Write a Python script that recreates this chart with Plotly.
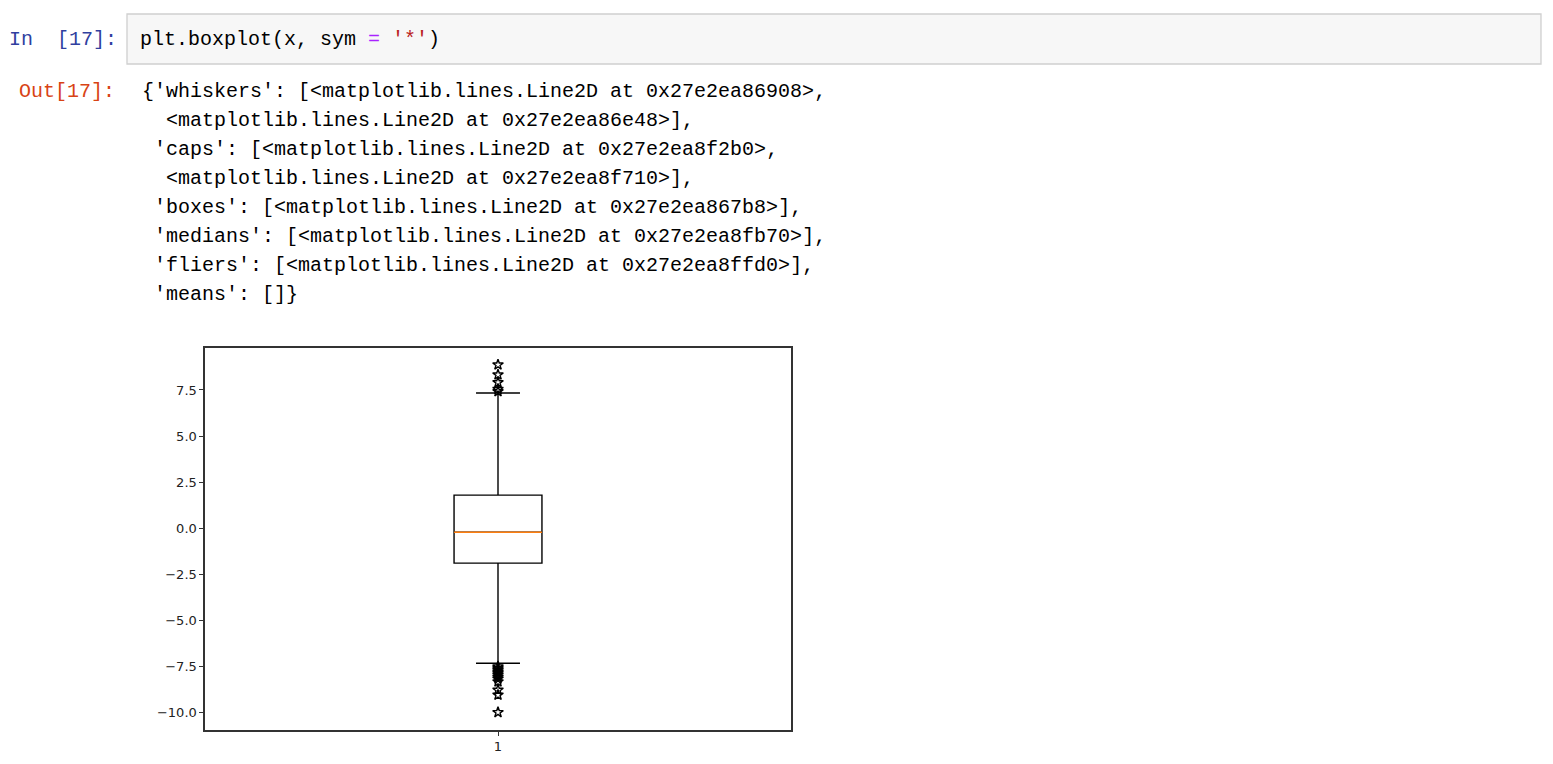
import plotly.graph_objects as go

W, H = 1553, 764

# ---- data ----
box_pos = [1]
q1 = [-1.90]
median = [-0.22]
q3 = [1.79]
lower_whisker = [-7.34]
upper_whisker = [7.34]
fliers_high = [8.87, 8.33, 7.91, 7.55, 7.42]
fliers_low = [-7.52, -7.61, -7.70, -7.79, -7.88, -7.97, -8.08, -8.18, -8.34, -8.79, -9.06, -10.0]
y_ticks = [-10.0, -7.5, -5.0, -2.5, 0.0, 2.5, 5.0, 7.5]
x_tick_labels = ["1"]

in_prompt = "In  [17]:"
out_prompt = "Out[17]:"
code_parts = [("plt.boxplot(x, sym ", "#000000"), ("=", "#AA22FF"), (" ", "#000000"),
              ("'*'", "#BA2121"), (")", "#000000")]
out_lines = [
    "{'whiskers': [<matplotlib.lines.Line2D at 0x27e2ea86908>,",
    "  <matplotlib.lines.Line2D at 0x27e2ea86e48>],",
    " 'caps': [<matplotlib.lines.Line2D at 0x27e2ea8f2b0>,",
    "  <matplotlib.lines.Line2D at 0x27e2ea8f710>],",
    " 'boxes': [<matplotlib.lines.Line2D at 0x27e2ea867b8>],",
    " 'medians': [<matplotlib.lines.Line2D at 0x27e2ea8fb70>],",
    " 'fliers': [<matplotlib.lines.Line2D at 0x27e2ea8ffd0>],",
    " 'means': []}",
]

BOX_W = 0.15
MONO = "Liberation Mono"
TICKFONT = "DejaVu Sans"


def px(x):
    return x / W


def py(y):
    return 1 - y / H


def nb(s):
    return s.replace(" ", "\u00a0")


fig = go.Figure()

fig.add_trace(go.Box(
    x=box_pos, q1=q1, median=median, q3=q3,
    lowerfence=lower_whisker, upperfence=upper_whisker,
    width=BOX_W, whiskerwidth=0.5,
    line=dict(color="black", width=1.4), fillcolor="rgba(255,255,255,0)",
    boxpoints=False, showlegend=False, hoverinfo="skip",
))

# orange median line across the box
fig.add_trace(go.Scatter(
    x=[box_pos[0] - BOX_W / 2, box_pos[0] + BOX_W / 2], y=[median[0], median[0]],
    mode="lines", line=dict(color="#ff7f0e", width=1.6), showlegend=False, hoverinfo="skip",
))

fl = fliers_high + fliers_low
fig.add_trace(go.Scatter(
    x=[box_pos[0]] * len(fl), y=fl, mode="markers",
    marker=dict(symbol="star-open", size=8, color="black", line=dict(width=1.4)),
    showlegend=False, hoverinfo="skip",
))

fig.update_xaxes(
    domain=[px(205), px(791)], range=[0.5, 1.5],
    tickvals=box_pos, ticktext=x_tick_labels,
    ticks="outside", ticklen=4, tickwidth=1, tickcolor="#333",
    showgrid=False, zeroline=False, showline=True, linecolor="#333", linewidth=1.6, mirror=True,
    tickfont=dict(family=TICKFONT, size=13, color="#222"),
)
fig.update_yaxes(
    domain=[py(730), py(348)], range=[-10.96, 9.78],
    tickvals=y_ticks, tickformat=".1f",
    ticks="outside", ticklen=4, tickwidth=1, tickcolor="#333",
    showgrid=False, zeroline=False, showline=True, linecolor="#333", linewidth=1.6, mirror=True,
    tickfont=dict(family=TICKFONT, size=13, color="#222"),
)

annotations = []
annotations.append(dict(
    x=px(7), y=py(40), xref="paper", yref="paper", xanchor="left", yanchor="middle",
    text=nb(in_prompt), showarrow=False, font=dict(family=MONO, size=20, color="#303F9F"),
))
annotations.append(dict(
    x=px(17), y=py(92), xref="paper", yref="paper", xanchor="left", yanchor="middle",
    text=nb(out_prompt), showarrow=False, font=dict(family=MONO, size=20, color="#D84315"),
))
code_html = "".join(f'<span style="color:{c}">{nb(t)}</span>' for t, c in code_parts)
annotations.append(dict(
    x=px(138), y=py(40), xref="paper", yref="paper", xanchor="left", yanchor="middle",
    text=code_html, showarrow=False, font=dict(family=MONO, size=20, color="#000"),
))
for i, line in enumerate(out_lines):
    annotations.append(dict(
        x=px(140), y=py(92 + i * 28.9), xref="paper", yref="paper", xanchor="left", yanchor="middle",
        text=nb(line), showarrow=False, font=dict(family=MONO, size=20, color="#000"),
    ))

shapes = [dict(
    type="rect", xref="paper", yref="paper",
    x0=px(127), x1=px(1541), y0=py(64), y1=py(14),
    fillcolor="#f7f7f7", line=dict(color="#cfcfcf", width=1.3), layer="below",
)]

fig.update_layout(
    width=W, height=H, autosize=False,
    margin=dict(l=0, r=0, t=0, b=0),
    paper_bgcolor="white", plot_bgcolor="white",
    annotations=annotations, shapes=shapes,
)

fig.write_html(
    "out.html",
    config={"displayModeBar": False, "staticPlot": True},
    post_script="document.body.style.margin='0';document.body.style.overflow='hidden';",
)
